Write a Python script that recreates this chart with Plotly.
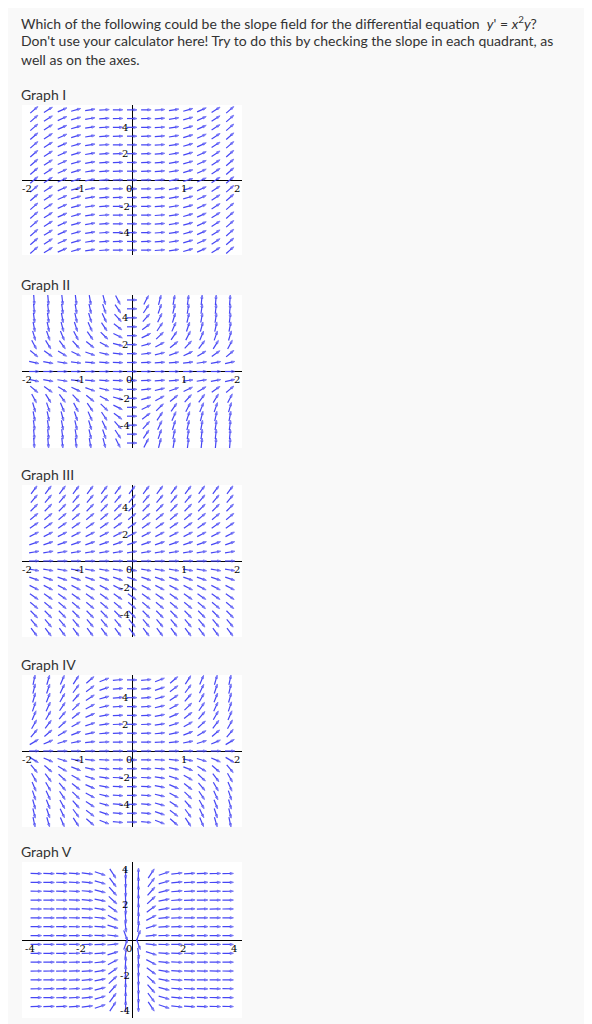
import numpy as np
import plotly.graph_objects as go

# grid positions and axis labels
xs_small = [-1.87, -1.6, -1.33, -1.07, -0.8, -0.53, -0.27, 0.0,
            0.27, 0.53, 0.8, 1.07, 1.33, 1.6, 1.87]
ys_small = [-5.33, -4.67, -4.0, -3.33, -2.67, -2.0, -1.33, -0.67, 0.0,
            0.67, 1.33, 2.0, 2.67, 3.33, 4.0, 4.67, 5.33]
xs_big = [-3.75, -3.25, -2.75, -2.25, -1.75, -1.25, -0.75, -0.25,
          0.25, 0.75, 1.25, 1.75, 2.25, 2.75, 3.25, 3.75]
ys_big = [-3.75, -3.25, -2.75, -2.25, -1.75, -1.25, -0.75, -0.25,
          0.25, 0.75, 1.25, 1.75, 2.25, 2.75, 3.25, 3.75]
xlab_small = [-2, -1, 0, 1, 2]
ylab_small = [-4, -2, 2, 4]
xlab_big = [-4, -2, 0, 2, 4]
ylab_big = [-4, -2, 2, 4]

titles = ["Graph I", "Graph II", "Graph III", "Graph IV", "Graph V"]

# slope of each field (the equations shown)
slopes = [
    lambda x, y: x**2,
    lambda x, y: x * y**2,
    lambda x, y: y,
    lambda x, y: x**2 * y,
    lambda x, y: y / (4 * x**3),
]

W, H = 592, 1024
OFF = 8  # page margin of the browser
# panel boxes in pixels: left, top, right, bottom
boxes = [(22, 105, 242, 255), (22, 295, 242, 448), (22, 485, 242, 637),
         (22, 675, 242, 827), (22, 862, 242, 1018)]
ranges = [((-2.1, 2.1), (-5.7, 5.7))] * 4 + [((-4.3, 4.3), (-4.4, 4.4))]

fig = go.Figure()
layout = dict()
annotations = []

for i in range(5):
    l, t, r, b = [v - OFF for v in boxes[i]]
    xr, yr = ranges[i]
    ax = "" if i == 0 else str(i + 1)
    px = (r - l) / (xr[1] - xr[0])
    py = (b - t) / (yr[1] - yr[0])
    if i < 4:
        gx, gy, xl, yl = xs_small, ys_small, xlab_small, ylab_small
    else:
        gx, gy, xl, yl = xs_big, ys_big, xlab_big, ylab_big
    L = 10 if i < 4 else 11
    lx, ly, sz = [], [], []
    for x in gx:
        for y in gy:
            s = slopes[i](x, y)
            dx, dy = 1.0, s * py / px
            n = np.hypot(dx, dy)
            dx, dy = dx / n * L / 2, dy / n * L / 2
            lx += [x - dx / px, x + dx / px, None]
            ly += [y - dy / py, y + dy / py, None]
            sz += [0, 3.5, 0]
    fig.add_trace(go.Scatter(
        x=lx, y=ly, mode="lines+markers", xaxis="x" + ax, yaxis="y" + ax,
        line=dict(color="rgb(70,70,245)", width=1.2),
        marker=dict(symbol="arrow", size=sz, angleref="previous",
                    color="rgb(50,50,240)"),
        hoverinfo="skip", showlegend=False))
    layout["xaxis" + ax] = dict(
        domain=[l / W, r / W], range=list(xr), anchor="y" + ax,
        showgrid=False, showticklabels=False, zeroline=True,
        zerolinecolor="black", zerolinewidth=1.2, fixedrange=True)
    layout["yaxis" + ax] = dict(
        domain=[1 - b / H, 1 - t / H], range=list(yr), anchor="x" + ax,
        showgrid=False, showticklabels=False, zeroline=True,
        zerolinecolor="black", zerolinewidth=1.2, fixedrange=True)
    for v in xl:
        annotations.append(dict(
            x=v, y=0, xref="x" + ax, yref="y" + ax, text=str(v),
            showarrow=False, yshift=-8, xshift=-3 if v == 0 else 0,
            font=dict(family="DejaVu Serif", size=10, color="black")))
    for v in yl:
        annotations.append(dict(
            x=0, y=v, xref="x" + ax, yref="y" + ax, text=str(v),
            showarrow=False, xshift=-7,
            font=dict(family="DejaVu Serif", size=10, color="black")))
    annotations.append(dict(
        x=(19 - OFF) / W, y=1 - (t - 11) / H, xref="paper", yref="paper",
        text=titles[i], showarrow=False, xanchor="left", yanchor="middle",
        font=dict(family="Lato", size=14, color="#333")))

question = [
    "Which of the following could be the slope field for the differential equation  <i>y</i>' = <i>x</i><sup>2</sup><i>y</i>?",
    "Don't use your calculator here! Try to do this by checking the slope in each quadrant, as",
    "well as on the axes.",
]
for k, line in enumerate(question):
    annotations.append(dict(
        x=(19 - OFF) / W, y=1 - (22 - OFF + 18.5 * k) / H, xref="paper",
        yref="paper", text=line, showarrow=False, xanchor="left",
        yanchor="middle", font=dict(family="Lato", size=14, color="#333")))

fig.update_layout(
    width=W, height=H, margin=dict(l=0, r=0, t=0, b=0),
    paper_bgcolor="#f9f9f9", plot_bgcolor="white",
    annotations=annotations, **layout)

fig.write_html("out.html")
